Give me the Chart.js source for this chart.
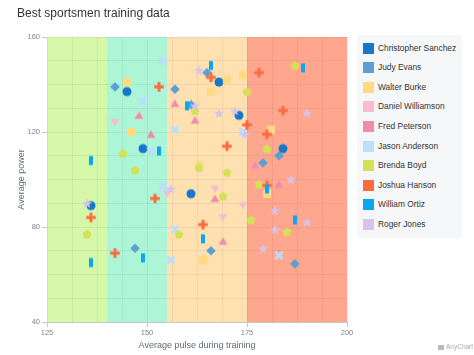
<!DOCTYPE html>
<html><head><meta charset="utf-8">
<script src="https://cdn.jsdelivr.net/npm/chart.js@4"></script>
<style>
html,body{margin:0;padding:0;background:#fff;}
#wrap{position:relative;width:474px;height:355px;font-family:"Liberation Sans",Arial,sans-serif;overflow:hidden}
#c{position:absolute;left:0;top:0;}
#title{position:absolute;left:17px;top:6px;font-size:12px;color:#333;white-space:nowrap}
#legend{position:absolute;left:357px;top:35px;width:105px;height:203px;background:#f6f7f9;border-radius:3px;}
.li{position:absolute;left:6px;height:12px;font-size:8.4px;color:#333;line-height:11px;white-space:nowrap}
.sw{display:inline-block;width:11px;height:11px;vertical-align:top;margin-right:4px}
#credit{position:absolute;left:438px;top:343px;font-size:6.5px;color:#aaa;white-space:nowrap}
#credit span{display:inline-block;width:6px;height:5px;background:#bbb;margin-right:2px;vertical-align:middle}
</style></head>
<body><div id="wrap">
<canvas id="c" width="474" height="355"></canvas>
<div id="title">Best sportsmen training data</div>
<div id="legend"></div>
<div id="credit"><span></span>AnyChart</div>
</div>
<script>
// ---- data ----
const seriesNames = ["Christopher Sanchez","Judy Evans","Walter Burke","Daniel Williamson","Fred Peterson","Jason Anderson","Brenda Boyd","Joshua Hanson","William Ortiz","Roger Jones"];
const christopherSanchez = [[145,137],[168,141],[173,127],[149,113],[184,113],[161,94],[136,89]];
const judyEvans = [[142,139],[157,138],[161,131.5],[165,145],[183,110],[179,107],[147,71],[166,70],[187,64.5]];
const walterBurke = [[145,141],[146,120],[170,142],[174,144],[166,137],[181,121],[163,106],[180,94],[164,66]];
const danielWilliamson = [[142,124],[155,94],[167,96],[169,84],[174,89]];
const fredPeterson = [[157,132],[148,127],[162,125],[151,119],[177,106],[167,92],[169,74],[183,98]];
const jasonAnderson = [[154,150],[149,133],[157,121],[151,112],[174,120],[154,97],[157,79],[156,66],[183,68]];
const brendaBoyd = [[162,129],[144,111],[147,104],[175,137],[187,148],[163,105],[170,103],[169,93],[180,113],[178,98],[176,83],[185,78],[158,77],[135,77]];
const joshuaHanson = [[153,139],[166,143],[178,145],[184,129],[175,123],[180,119],[170,114],[180,97.5],[164,81],[152,92],[136,84],[142,69]];
const williamOrtiz = [[160,131],[166,148],[189,147],[153,112],[136,108],[180,96],[164,75],[187,83],[149,67],[136,65]];
const rogerJones = [[163,146],[162,131],[168,128],[172,129],[190,128],[186,100],[156,96],[182,87],[190,82],[182,79],[179,71],[135,90],[174.5,119]];
const seriesData = [christopherSanchez,judyEvans,walterBurke,danielWilliamson,fredPeterson,jasonAnderson,brendaBoyd,joshuaHanson,williamOrtiz,rogerJones];
const xTickValues = [125,150,175,200];
const yTickValues = [40,80,120,160];
const bandStart = [125,140,155,175];
const bandEnd = [140,155,175,200];

// ---- styles ----
const colors = ['#1777c8','#5c9fd5','#ffda80','#f8bbd0','#f08bad','#bbdefb','#d4e157','#fc6b40','#0aa6ef','#d8c3ea'];
const shapes = ['circle','diamond','square','triDown','triUp','xcross','pentagon','cross','vline','star'];
const bandColors = ['#d4f8a8','#acf5d6','#ffe0b1','#ffa68f'];

function plusPts(a,L){return [[-a,-L],[a,-L],[a,-a],[L,-a],[L,a],[a,a],[a,L],[-a,L],[-a,a],[-L,a],[-L,-a],[-a,-a]];}
function makeMarker(type,color){
  const s=14,c=document.createElement('canvas');c.width=s;c.height=s;
  const g=c.getContext('2d');g.fillStyle=color;g.translate(s/2,s/2);g.beginPath();
  const poly=(pts)=>{pts.forEach((p,i)=>i?g.lineTo(p[0],p[1]):g.moveTo(p[0],p[1]));};
  switch(type){
    case 'circle':g.arc(0,0,4.5,0,Math.PI*2);break;
    case 'diamond':poly([[0,-4.8],[4.8,0],[0,4.8],[-4.8,0]]);break;
    case 'square':g.rect(-4.1,-4.1,8.2,8.2);break;
    case 'triDown':poly([[-4.4,-3.4],[4.4,-3.4],[0,4]]);break;
    case 'triUp':poly([[-4.4,3.4],[4.4,3.4],[0,-4]]);break;
    case 'xcross':{const r=Math.SQRT1_2;poly(plusPts(1.5,5).map(p=>[(p[0]-p[1])*r,(p[0]+p[1])*r]));break;}
    case 'pentagon':{const pts=[];for(let i=0;i<5;i++){const a=-Math.PI/2+i*2*Math.PI/5;pts.push([4.7*Math.cos(a),4.7*Math.sin(a)+0.4]);}poly(pts);break;}
    case 'cross':poly(plusPts(1.5,4.8));break;
    case 'vline':g.rect(-2,-4.5,4,9);break;
    case 'star':{const pts=[];for(let i=0;i<10;i++){const a=-Math.PI/2+i*Math.PI/5;const r=i%2?2.3:5.4;pts.push([r*Math.cos(a),r*Math.sin(a)+0.5]);}poly(pts);break;}
  }
  g.closePath();g.fill();return c;
}

// legend (HTML)
const leg=document.getElementById('legend');
seriesNames.forEach((n,i)=>{
  const d=document.createElement('div');d.className='li';d.style.top=(7.8+i*19.56)+'px';
  d.innerHTML='<span class="sw" style="background:'+colors[i]+'"></span>'+n;leg.appendChild(d);
});

const bandsPlugin={id:'bands',beforeDraw(chart){
  const {ctx,chartArea:a,scales:{x}}=chart;ctx.save();
  for(let i=0;i<bandStart.length;i++){
    const x1=x.getPixelForValue(bandStart[i]),x2=x.getPixelForValue(bandEnd[i]);
    ctx.fillStyle=bandColors[i];ctx.fillRect(x1,a.top,x2-x1,a.bottom-a.top);
  }
  ctx.restore();
}};

const FONT='"Liberation Sans", Arial, sans-serif';
new Chart(document.getElementById('c'),{
  type:'scatter',
  data:{datasets:seriesData.map((d,i)=>({
    label:seriesNames[i],
    data:d.map(p=>({x:p[0],y:p[1]})),
    pointStyle:makeMarker(shapes[i],colors[i]),
    pointRadius:5,pointHoverRadius:5,
    backgroundColor:colors[i],borderColor:colors[i],
    order:-i
  }))},
  options:{
    responsive:false,animation:false,
    layout:{padding:{top:37,right:127,left:0,bottom:0}},
    plugins:{legend:{display:false},title:{display:false},tooltip:{enabled:false}},
    scales:{
      x:{type:'linear',min:125,max:200,
        afterFit:s=>{s.height=33;},
        ticks:{stepSize:6.25,autoSkip:false,maxRotation:0,padding:1,color:'#7c868e',font:{family:FONT,size:7.5},
          callback:v=>xTickValues.includes(v)?String(v):''},
        grid:{color:'rgba(0,0,0,0.05)',tickLength:5,
          tickColor:c=>(c.tick&&xTickValues.includes(c.tick.value))?'#c8c8c8':'rgba(0,0,0,0)'},
        border:{display:true,color:'#c8c8c8'},
        title:{display:true,text:'Average pulse during training',color:'#5f6b75',font:{family:FONT,size:9},padding:{top:0,bottom:4}}
      },
      y:{type:'linear',min:40,max:160,
        afterFit:s=>{s.width=47;},
        ticks:{stepSize:10,autoSkip:false,padding:2,color:'#7c868e',font:{family:FONT,size:7.5},
          callback:v=>yTickValues.includes(v)?String(v):''},
        grid:{color:'rgba(0,0,0,0.05)',tickLength:5,
          tickColor:c=>(c.tick&&yTickValues.includes(c.tick.value))?'#c8c8c8':'rgba(0,0,0,0)'},
        border:{display:false},
        title:{display:true,text:'Average power',color:'#5f6b75',font:{family:FONT,size:9},padding:{top:16,bottom:0}}
      }
    }
  },
  plugins:[bandsPlugin]
});
</script>
</body></html>
